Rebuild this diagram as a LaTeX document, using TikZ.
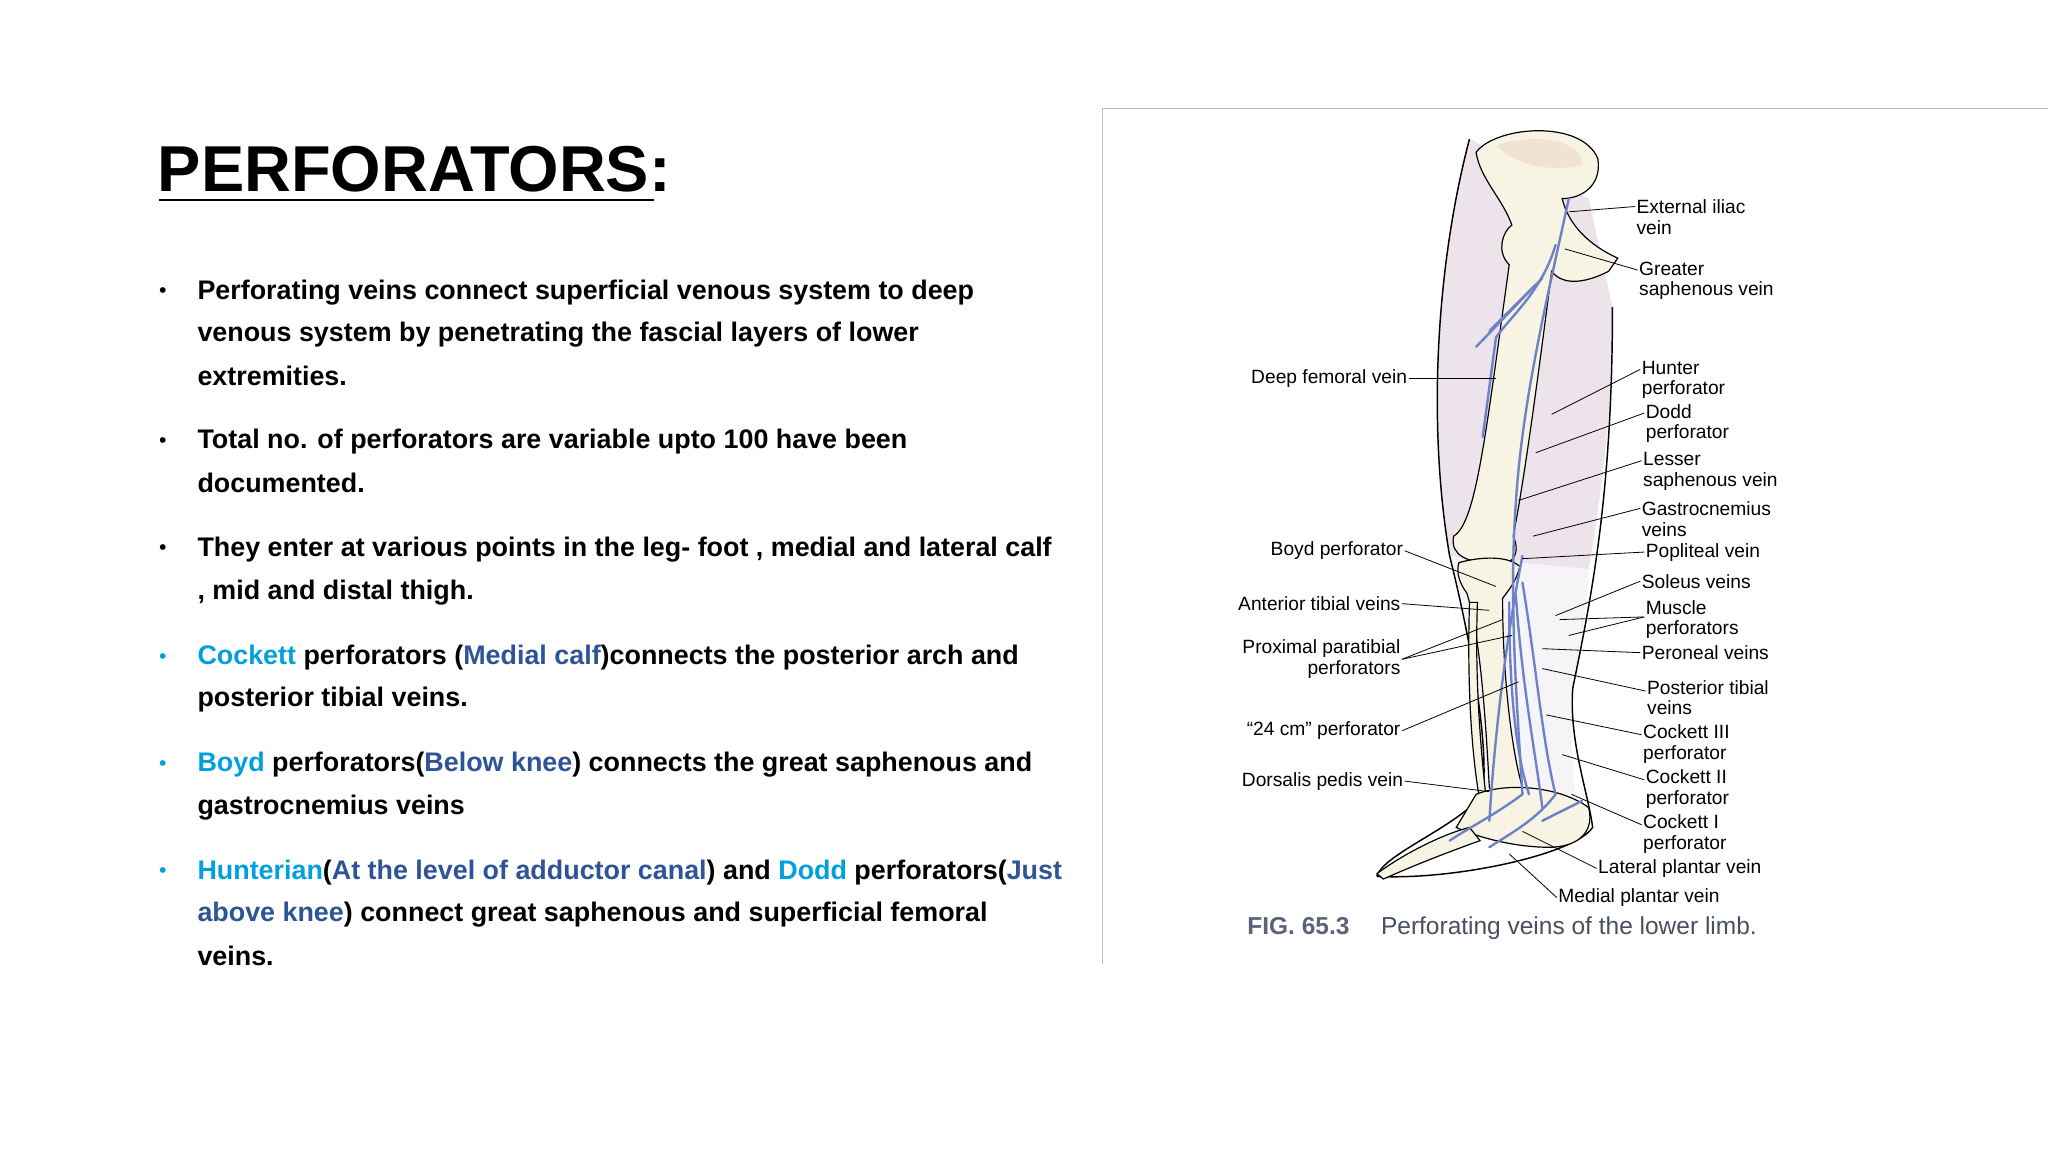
\documentclass[tikz,border=0pt]{standalone}
\usepackage{fontspec}
\setmainfont{Liberation Sans}
\begin{document}
\begin{tikzpicture}[x=1pt,y=-1pt,
  body/.style={font=\fontsize{20.3}{22}\selectfont\bfseries, anchor=base west, inner sep=0pt},
  lab/.style={font=\fontsize{14.5}{15.5}\selectfont, inner sep=1pt, align=left},
  labr/.style={lab, anchor=west},
  labl/.style={lab, anchor=east, align=right},
  lead/.style={draw=black, line width=0.6pt},
  vein/.style={draw=veinblue, line width=1.8pt, line cap=round},
  bone/.style={fill=bonefill, draw=black, line width=0.9pt}]
\definecolor{cy}{RGB}{0,160,222}
\definecolor{db}{RGB}{47,84,150}
\definecolor{veinblue}{RGB}{110,130,200}
\definecolor{bonefill}{RGB}{248,244,228}
\definecolor{skin}{RGB}{236,228,234}
\definecolor{capg}{RGB}{90,100,120}
\useasboundingbox (0,0) rectangle (1547,870);
\fill[white] (0,0) rectangle (1547,870);
% title
\node[anchor=base west, inner sep=0pt, font=\fontsize{49}{52}\selectfont\bfseries] (title) at (119,145) {PERFORATORS:};
\draw[line width=2pt] (120,151) -- (494,151);
% bullets
\foreach \y in {219,332,413}{\node[anchor=base, font=\fontsize{16}{16}\selectfont] at (123,\y+6) {•};}
\foreach \y in {495,576,657}{\node[anchor=base, font=\fontsize{16}{16}\selectfont, text=cy] at (123,\y+6) {•};}
\node[body] (l1) at (149,226) {Perforating veins connect superficial venous system to deep};
\node[body] (l2) at (149,258) {venous system by penetrating the fascial layers of lower};
\node[body] (l3) at (149,291) {extremities.};
\node[body] (l4) at (149,339) {Total no. of perforators are variable upto 100 have been};
\node[body] (l5) at (149,372) {documented.};
\node[body] (l6) at (149,420) {They enter at various points in the leg- foot , medial and lateral calf};
\node[body] (l7) at (149,453) {, mid and distal thigh.};
\node[body] (l8) at (149,502) {\textcolor{cy}{Cockett} perforators (\textcolor{db}{Medial calf})connects the posterior arch and};
\node[body] (l9) at (149,534) {posterior tibial veins.};
\node[body] (l10) at (149,583) {\textcolor{cy}{Boyd} perforators(\textcolor{db}{Below knee}) connects the great saphenous and};
\node[body] (l11) at (149,615) {gastrocnemius veins};
\node[body] (l12) at (149,664) {\textcolor{cy}{Hunterian}(\textcolor{db}{At the level of adductor canal}) and \textcolor{cy}{Dodd} perforators(\textcolor{db}{Just}};
\node[body] (l13) at (149,696) {\textcolor{db}{above knee}) connect great saphenous and superficial femoral};
\node[body] (l14) at (149,729) {veins.};
% panel frame
\draw[gray!50, line width=0.6pt] (833,728) -- (833,82) -- (1547,82);
% thigh tint
\fill[skin] (1110,105) .. controls (1085,200) and (1078,320) .. (1095,420)
  -- (1200,430) .. controls (1212,360) and (1218,300) .. (1218,232) -- (1200,150) -- cycle;
\fill[skin!40] (1095,420) .. controls (1110,480) and (1125,560) .. (1120,600)
  -- (1190,600) .. controls (1185,560) and (1188,520) .. (1188,520)
  .. controls (1195,480) and (1200,450) .. (1200,430) -- cycle;
\draw[line width=1.1pt] (1110,105) .. controls (1085,200) and (1078,320) .. (1095,420)
  .. controls (1110,480) and (1125,560) .. (1120,600)
  .. controls (1100,625) and (1045,645) .. (1040,662);
\draw[line width=1.1pt] (1040,662) .. controls (1100,665) and (1190,645) .. (1203,625)
  .. controls (1200,600) and (1185,560) .. (1188,520)
  .. controls (1200,460) and (1218,380) .. (1218,232);
% femur
\path[bone] (1115,115) .. controls (1130,95) and (1195,90) .. (1207,120)
  .. controls (1210,140) and (1195,150) .. (1180,150)
  .. controls (1185,170) and (1200,185) .. (1222,195) -- (1215,205)
  .. controls (1195,215) and (1180,215) .. (1172,205)
  .. controls (1160,300) and (1150,370) .. (1143,405)
  .. controls (1150,420) and (1140,430) .. (1125,425)
  .. controls (1110,425) and (1095,420) .. (1098,405)
  .. controls (1115,395) and (1122,330) .. (1140,200)
  .. controls (1130,190) and (1135,175) .. (1142,170)
  .. controls (1135,150) and (1118,135) .. (1115,115) -- cycle;
\fill[brown!30, opacity=0.6] (1130,110) .. controls (1160,100) and (1195,105) .. (1195,125) .. controls (1170,130) and (1145,125) .. (1130,110);
% tibia
\path[bone] (1102,425) .. controls (1120,420) and (1140,420) .. (1148,428)
  .. controls (1145,440) and (1140,445) .. (1135,452)
  .. controls (1135,500) and (1140,560) .. (1150,595)
  .. controls (1140,600) and (1130,600) .. (1125,595)
  .. controls (1122,540) and (1118,480) .. (1108,448)
  .. controls (1102,440) and (1100,432) .. (1102,425) -- cycle;
% fibula
\path[bone] (1110,455) .. controls (1108,520) and (1112,570) .. (1117,600) -- (1122,598) .. controls (1118,560) and (1114,510) .. (1116,455) -- cycle;
% foot bones
\path[bone] (1115,600) .. controls (1140,590) and (1180,595) .. (1200,610)
  .. controls (1205,630) and (1190,640) .. (1170,640)
  .. controls (1140,640) and (1110,630) .. (1100,625) -- cycle;
\path[bone] (1040,660) .. controls (1060,645) and (1090,630) .. (1110,625) -- (1118,635) .. controls (1090,645) and (1065,655) .. (1045,664) -- cycle;
% veins
\draw[vein] (1185,150) .. controls (1170,220) and (1150,300) .. (1145,380)
  .. controls (1140,450) and (1145,520) .. (1150,600);
\draw[vein] (1175,185) .. controls (1165,220) and (1140,240) .. (1130,255) -- (1120,330);
\draw[vein] (1165,210) -- (1115,262);
\draw[vein] (1160,215) -- (1125,250);
\draw[vein] (1150,420) .. controls (1140,470) and (1130,540) .. (1125,620);
\draw[vein] (1150,440) .. controls (1160,500) and (1165,560) .. (1175,600);
\draw[vein] (1145,450) .. controls (1150,520) and (1160,570) .. (1165,610);
\draw[vein] (1140,455) .. controls (1140,520) and (1145,570) .. (1155,600);
\draw[vein] (1150,600) .. controls (1130,615) and (1110,625) .. (1095,635);
\draw[vein] (1175,600) .. controls (1160,620) and (1140,630) .. (1125,640);
\draw[vein] (1165,620) -- (1195,605);
% left labels
\node[labl] (dfv) at (1064,286) {Deep femoral vein};
\node[labl] (boyd) at (1061,416) {Boyd perforator};
\node[labl] (atv) at (1059,456) {Anterior tibial veins};
\node[labl] (ppp) at (1059,498) {Proximal paratibial\\perforators};
\node[labl] (cm24) at (1059,552) {“24 cm” perforator};
\node[labl] (dpv) at (1061,590) {Dorsalis pedis vein};
\coordinate (pdfv) at (1130,286);
\coordinate (pboyd) at (1130,443);
\coordinate (patv) at (1125,461);
\coordinate (pppa) at (1135,468);
\coordinate (pppb) at (1142,480);
\coordinate (pcm) at (1147,515);
\coordinate (pdpv) at (1125,598);
\draw[lead] (dfv.east) -- (pdfv);
\draw[lead] (boyd.east) -- (pboyd);
\draw[lead] (atv.east) -- (patv);
\draw[lead] (ppp.east) -- (pppa);
\draw[lead] (ppp.east) -- (pppb);
\draw[lead] (cm24.east) -- (pcm);
\draw[lead] (dpv.east) -- (pdpv);
% right labels
\node[labr] (eiv) at (1235,164) {External iliac\\vein};
\node[labr] (gsv) at (1237,212) {Greater\\saphenous vein};
\node[labr] (hp) at (1239,287) {Hunter\\perforator};
\node[labr] (dp) at (1242,320) {Dodd\\perforator};
\node[labr] (lsv) at (1240,356) {Lesser\\saphenous vein};
\node[labr] (gv) at (1239,392) {Gastrocnemius\\veins};
\node[labr] (pv) at (1242,417) {Popliteal vein};
\node[labr] (sv) at (1239,439) {Soleus veins};
\node[labr] (mp) at (1242,468) {Muscle\\perforators};
\node[labr] (perv) at (1239,493) {Peroneal veins};
\node[labr] (ptv) at (1243,527) {Posterior tibial\\veins};
\node[labr] (c3) at (1240,562) {Cockett III\\perforator};
\node[labr] (c2) at (1242,596) {Cockett II\\perforator};
\node[labr] (c1) at (1240,630) {Cockett I\\perforator};
\node[labr] (lpv) at (1206,656) {Lateral plantar vein};
\node[labr] (mpv) at (1176,678) {Medial plantar vein};
\draw[lead] (eiv.west) ++(0,-8) -- (1185,160);
\draw[lead] (gsv.west) ++(0,-8) -- (1182,188);
\draw[lead] (hp.west) ++(0,-8) -- (1172,313);
\draw[lead] (dp.west) ++(0,-8) -- (1160,342);
\draw[lead] (lsv.west) ++(0,-8) -- (1147,378);
\draw[lead] (gv.west) ++(0,-8) -- (1158,405);
\draw[lead] (pv.west) -- (1150,422);
\draw[lead] (sv.west) -- (1175,465);
\draw[lead] (mp.west) ++(0,-2) -- (1178,468);
\draw[lead] (mp.west) ++(0,-2) -- (1185,480);
\draw[lead] (perv.west) -- (1165,490);
\draw[lead] (ptv.west) ++(0,-5) -- (1165,505);
\draw[lead] (c3.west) ++(0,-7) -- (1168,540);
\draw[lead] (c2.west) ++(0,-7) -- (1180,570);
\draw[lead] (c1.west) ++(0,-7) -- (1187,600);
\draw[lead] (lpv.west) -- (1150,628);
\draw[lead] (mpv.west) -- (1140,645);
% caption
\node[anchor=base west, inner sep=0pt, font=\fontsize{18.5}{20}\selectfont\bfseries, text=capg] (fig) at (942,706) {FIG. 65.3};
\node[anchor=base west, inner sep=0pt, font=\fontsize{18.5}{20}\selectfont, text=capg!80!black] (capt) at (1043,706) {Perforating veins of the lower limb.};
\end{tikzpicture}
\end{document}
